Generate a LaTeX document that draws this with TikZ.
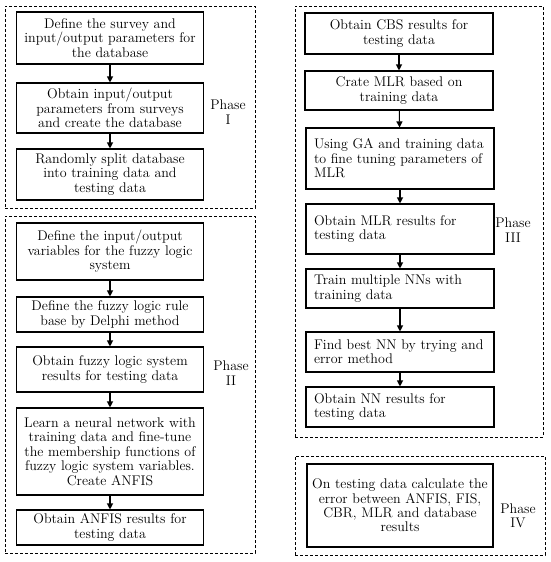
\documentclass[tikz,border=0pt]{standalone}
\usetikzlibrary{arrows.meta}
\begin{document}
\begin{tikzpicture}[x=1pt,y=-1pt,
  every node/.style={font=\fontsize{14}{14.4}\selectfont},
  stepbox/.style={draw,line width=1.1pt,inner sep=0pt,align=center,anchor=center},
  leftbox/.style={draw,line width=1.1pt,inner sep=0pt,align=left,anchor=center},
  frame/.style={draw,dashed,dash pattern=on 3pt off 2pt,line width=1pt,inner sep=0pt,anchor=center},
  phase/.style={align=center,inner sep=0pt},
  arr/.style={-{Triangle[length=6pt,width=6pt]},line width=1.1pt}]
\useasboundingbox (0,0) rectangle (550,562);
% frames
\node[frame,minimum width=250pt,minimum height=202pt] (f1) at (130,107) {};
\node[frame,minimum width=250pt,minimum height=337pt] (f2) at (130,384.5) {};
\node[frame,minimum width=248pt,minimum height=431pt] (f3) at (419,221.5) {};
\node[frame,minimum width=250pt,minimum height=99pt] (f4) at (420,505.5) {};
% Phase I
\node[stepbox,minimum width=187pt,minimum height=52pt,text width=184pt] (a1) at (110,38) {Define the survey and\\input/output parameters for\\the database};
\node[stepbox,minimum width=187pt,minimum height=50pt,text width=184pt] (a2) at (110,108) {Obtain input/output\\parameters from surveys\\and create the database};
\node[stepbox,minimum width=187pt,minimum height=51pt,text width=184pt] (a3) at (110,174.5) {Randomly split database\\into training data and\\testing data};
\node[phase] (p1) at (228,112) {Phase\\I};
% Phase II
\node[stepbox,minimum width=187pt,minimum height=57pt,text width=184pt] (b1) at (110,251.5) {Define the input/output\\variables for the fuzzy logic\\system};
\node[stepbox,minimum width=187pt,minimum height=35pt,text width=184pt] (b2) at (110,314.5) {Define the fuzzy logic rule\\base by Delphi method};
\node[stepbox,minimum width=187pt,minimum height=45pt,text width=184pt] (b3) at (110,369.5) {Obtain fuzzy logic system\\results for testing data};
\node[stepbox,minimum width=187pt,minimum height=87pt,text width=184pt] (b4) at (110,451.5) {Learn a neural network with\\training data and fine-tune\\the membership functions of\\fuzzy logic system variables.\\Create ANFIS};
\node[stepbox,minimum width=187pt,minimum height=35pt,text width=184pt] (b5) at (110,527.5) {Obtain ANFIS results for\\testing data};
\node[phase] (p2) at (231,373) {Phase\\II};
% Phase III
\node[stepbox,minimum width=188pt,minimum height=41pt,text width=184pt] (c1) at (399,33.5) {Obtain CBS results for\\testing data};
\node[stepbox,minimum width=188pt,minimum height=39pt,text width=184pt] (c2) at (399,90.5) {Crate MLR based on\\training data};
\node[leftbox,minimum width=188pt,minimum height=61pt,text width=172pt] (c3) at (400,158.5) {Using GA and training data\\to fine tuning parameters of\\MLR};
\node[leftbox,minimum width=188pt,minimum height=50pt,text width=172pt] (c4) at (400,229) {Obtain MLR results for\\testing data};
\node[leftbox,minimum width=188pt,minimum height=39pt,text width=172pt] (c5) at (400,288.5) {Train multiple NNs with\\training data};
\node[leftbox,minimum width=188pt,minimum height=40pt,text width=172pt] (c6) at (400,352) {Find best NN by trying and\\error method};
\node[leftbox,minimum width=188pt,minimum height=40pt,text width=172pt] (c7) at (400,407) {Obtain NN results for\\testing data};
\node[phase] (p3) at (513,230) {Phase\\III};
% Phase IV
\node[stepbox,minimum width=186pt,minimum height=83pt,text width=184pt] (d1) at (400,505.5) {On testing data calculate the\\error between ANFIS, FIS,\\CBR, MLR and database\\results};
\node[phase] (p4) at (518,516) {Phase\\IV};
% arrows
\draw[arr] (a1) -- (a2);
\draw[arr] (a2) -- (a3);
\draw[arr] (b1) -- (b2);
\draw[arr] (b2) -- (b3);
\draw[arr] (b3) -- (b4);
\draw[arr] (b4) -- (b5);
\draw[arr] (c1) -- (c2);
\draw[arr] (c2) -- (c3);
\draw[arr] (c3) -- (c4);
\draw[arr] (c4) -- (c5);
\draw[arr] (c5) -- (c6);
\draw[arr] (c6) -- (c7);
\end{tikzpicture}
\end{document}
